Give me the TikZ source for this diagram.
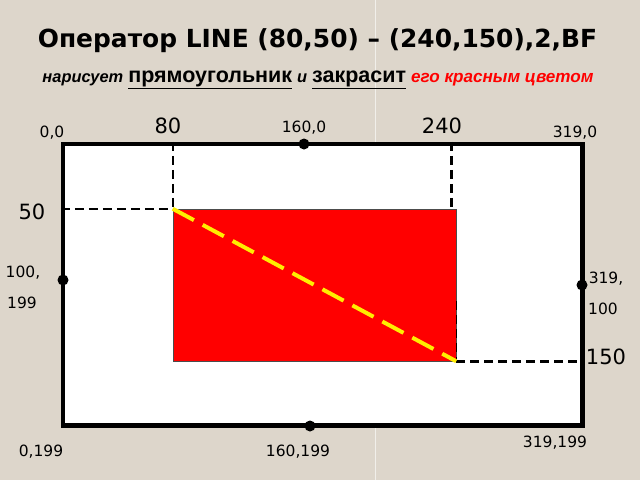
\documentclass[tikz,border=0pt]{standalone}
\usepackage{fontspec}
\setmainfont{DejaVu Sans}
\newfontfamily\arialf{Liberation Sans}
\usetikzlibrary{calc}
\definecolor{granite}{RGB}{221,214,203}
\definecolor{boxred}{RGB}{255,0,0}
\definecolor{lineyellow}{RGB}{255,238,0}

\begin{document}
\begin{tikzpicture}[x=1pt, y=-1pt]
\tikzset{
  lbl/.style = {font=\fontsize{15.5}{17}\selectfont, inner sep=0pt},
  bignum/.style = {font=\fontsize{21}{24}\selectfont, inner sep=0pt},
  guide/.style = {black, line width=2.5pt, dash pattern=on 9pt off 5pt},
  dot/.style = {circle, fill=black, inner sep=0pt, minimum size=11pt}
}
% background
\fill[granite] (0,0) rectangle (640,480);
\useasboundingbox (0,0) rectangle (640,480);
\draw[white!60!granite, line width=0.8pt] (375,0) -- (375,480);

% heading
\node (title) at (317.5,41) {\fontsize{24.9}{28}\selectfont\bfseries Оператор LINE (80,50) – (240,150),2,BF};
\node (subtitle) at (318,80) {\arialf\bfseries
  {\itshape\fontsize{16.4}{18}\selectfont нарисует}\hspace{5pt}%
  {\fontsize{21.5}{23}\selectfont\underline{прямоугольник}}\hspace{5pt}%
  {\itshape\fontsize{16.4}{18}\selectfont и}\hspace{5pt}%
  {\fontsize{21.5}{23}\selectfont\underline{закрасит}}\hspace{5pt}%
  {\itshape\fontsize{17.1}{19}\selectfont\color{red}его красным цветом}};

% screen frame and filled box
\node (screen) [draw=black, line width=4.5pt, fill=white, inner sep=0pt,
  minimum width=519.5pt, minimum height=281.5pt] at (322.75,284.75) {};
\node (fillbox) [draw=black!70, line width=0.5pt, fill=boxred, inner sep=0pt,
  minimum width=283pt, minimum height=152pt] at (314.5,285) {};

% guide lines
\draw[guide] (screen.north -| fillbox.north west) -- (fillbox.north west);
\draw[guide] (screen.west |- fillbox.north west) -- (fillbox.north west);
\draw[guide] ($(screen.north -| fillbox.north east)+(-5,0)$) -- ($(fillbox.north east)+(-5,0)$);
\draw[black, line width=1pt, dash pattern=on 9pt off 5pt] ($(fillbox.south east)+(0,-60)$) -- (fillbox.south east);
\draw[guide] (fillbox.south east) -- (screen.east |- fillbox.south east);
\draw[lineyellow, line width=4pt, dash pattern=on 24pt off 10pt] (fillbox.north west) -- (fillbox.south east);

% points on the frame
\node (ptop) [dot] at (304,144) {};
\node (pleft) [dot] at (63,280) {};
\node (pright) [dot] at (582,285) {};
\node (pbottom) [dot] at (310,426) {};

% labels
\node (n80) [bignum] at (168,126) {80};
\node (n240) [bignum] at (442,126) {240};
\node (n50) [bignum] at (32,212) {50};
\node (n150) [bignum] at (606,357) {150};
\node (c00) [lbl] at (52,133) {0,0};
\node (c1600) [lbl] at (304,128) {160,0};
\node (c3190) [lbl] at (575,133) {319,0};
\node (c100a) [lbl] at (23,273) {100,};
\node (c100b) [lbl] at (22,303) {199};
\node (c319a) [lbl] at (606,279) {319,};
\node (c319b) [lbl] at (603,309) {100};
\node (c0199) [lbl] at (41,452) {0,199};
\node (c160199) [lbl] at (298,452) {160,199};
\node (c319199) [lbl] at (555,443) {319,199};
\end{tikzpicture}
\end{document}
